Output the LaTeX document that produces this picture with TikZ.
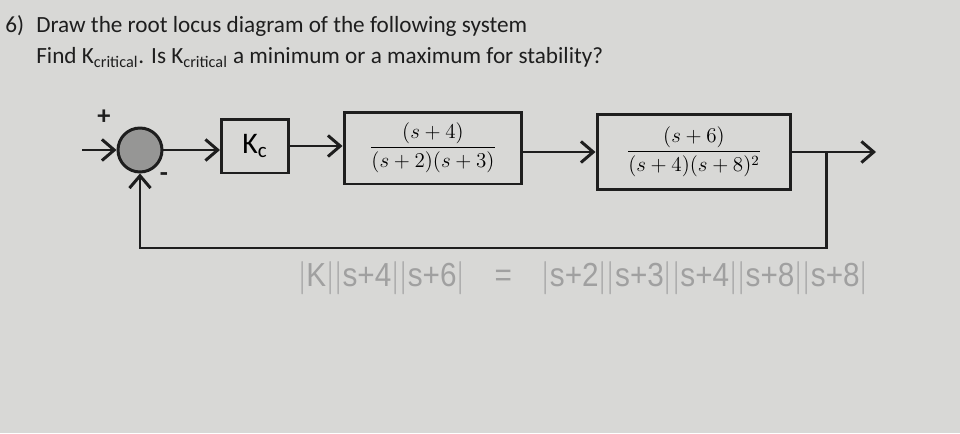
\documentclass[tikz,border=0pt]{standalone}
\usepackage{amsmath}
\usepackage{fontspec}
\setmainfont{Carlito}
\newfontfamily\penfont{Liberation Sans}
\usetikzlibrary{arrows.meta}
\definecolor{paper}{RGB}{216,216,214}
\definecolor{ink}{RGB}{30,30,30}
\definecolor{pencil}{RGB}{160,160,160}
\tikzset{
  sig/.style={draw=ink,line width=1.7pt,-{Straight Barb[length=7pt,width=12pt,line width=1.7pt]}},
  block/.style={draw=ink,line width=1.7pt,rectangle,inner sep=0pt,font=\large},
  sumjunc/.style={draw=ink,line width=1.7pt,circle,fill=gray!75!paper,minimum size=0.88cm,inner sep=0pt},
  question/.style={anchor=base west,font=\fontsize{13.2}{15}\selectfont,text=ink,inner sep=0pt},
  sign/.style={font=\bfseries\fontsize{15}{16}\selectfont,text=ink,inner sep=0pt}
}
\begin{document}
\begin{tikzpicture}[x=0.02cm,y=-0.02cm]
    \fill[paper] (0,0) rectangle (960,433);
    \useasboundingbox (0,0) rectangle (960,433);
    % question text
    \node[question] (num) at (5,32) {6)};
    \node[question] (line1) at (36,32) {Draw the root locus diagram of the following system};
    \node[question] (line2) at (36,63) {Find K\textsubscript{critical}. Is K\textsubscript{critical} a minimum or a maximum for stability?};
    % block diagram
    \coordinate (in) at (82,150);
    \node[sumjunc] (sum) at (140,150) {};
    \node[block,minimum width=1.34cm,minimum height=1.08cm] (kc) at (255,146) {\fontsize{17}{18}\selectfont K\textsubscript{c}};
    \node[block,minimum width=3.56cm,minimum height=1.44cm] (plant1) at (433,148) {$\dfrac{(s+4)}{(s+2)(s+3)}$};
    \node[block,minimum width=3.88cm,minimum height=1.5cm] (plant2) at (694,152) {$\dfrac{(s+6)}{(s+4)(s+8)^2}$};
    \coordinate (out) at (876,152);
    \coordinate (branch) at (826,152);
    \coordinate (low) at (826,248);
    \node[sign] (plus) at (104,117) {+};
    \node[sign] (minus) at (164,177) {-};
    \draw[sig] (in) -- (sum);
    \draw[sig] (sum) -- (kc.west |- sum);
    \draw[sig] (kc) -- (plant1.west |- kc);
    \draw[sig] (plant1.east |- plant2) -- (plant2);
    \draw[sig] (plant2) -- (out);
    \draw[sig] (branch) -- (low) -| (sum.south);
    % pencil note
    \node[text=pencil,font=\penfont,inner sep=0pt] (note) at (583,278)
      {\resizebox{11.4cm}{0.5cm}{$\lvert$K$\rvert$$\lvert$s+4$\rvert$$\lvert$s+6$\rvert$\quad=\quad$\lvert$s+2$\rvert$$\lvert$s+3$\rvert$$\lvert$s+4$\rvert$$\lvert$s+8$\rvert$$\lvert$s+8$\rvert$}};
\end{tikzpicture}
\end{document}
